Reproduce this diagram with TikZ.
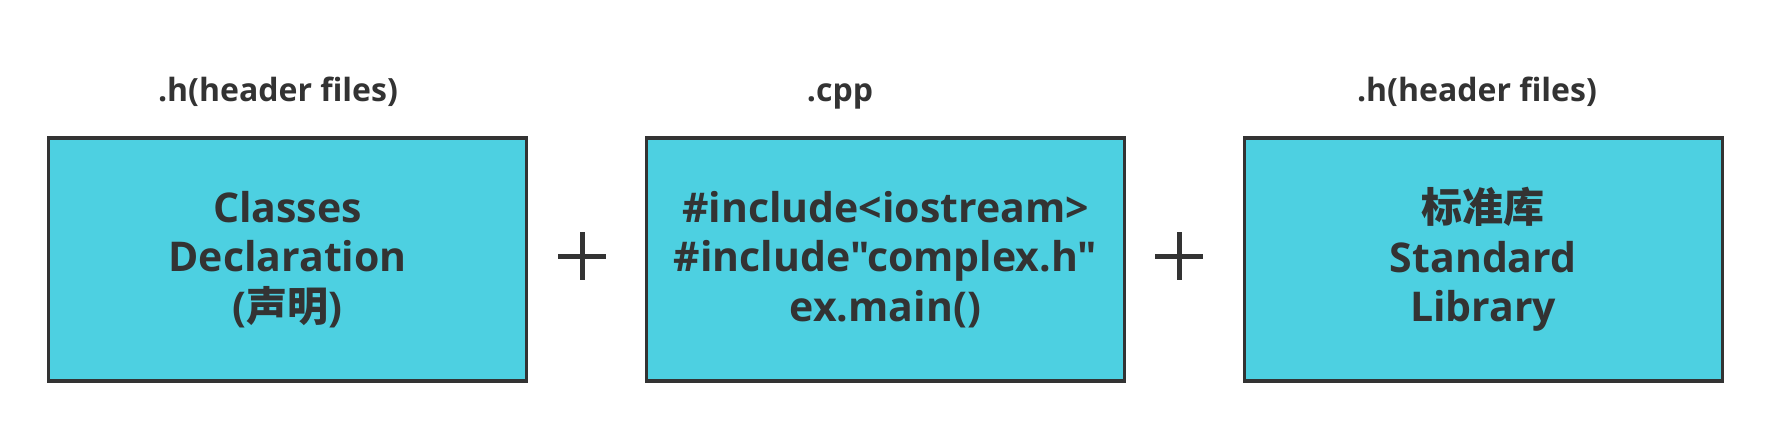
\documentclass[tikz,border=0pt]{standalone}
\usepackage{fontspec}
\setmainfont{Open Sans}[Ligatures=TeXOff]
\newfontfamily\cjk{Noto Sans CJK SC}
\definecolor{ink}{HTML}{333333}
\definecolor{boxfill}{HTML}{4DD0E1}
\begin{document}
\begin{tikzpicture}[x=1pt,y=-1pt,
  filebox/.style={draw=ink, line width=3.4pt, fill=boxfill, minimum width=478pt, minimum height=243pt,
    inner sep=0pt, align=center, text=ink, font=\fontsize{41}{49.7}\selectfont\bfseries},
  toplabel/.style={text=ink, font=\fontsize{32}{36}\selectfont\bfseries, anchor=base, inner sep=0pt},
  plusline/.style={draw=ink, line width=5pt}]
\useasboundingbox[fill=white] (0,0) rectangle (1772,431);

\node[filebox] (hdr) at (287.6,259.4) {Classes\\Declaration\\({\cjk 声明})};
\node[filebox] (cpp) at (885.4,259.4) {\#include<iostream>\\\#include"complex.h"\\ex.main()};
\node[filebox] (lib) at (1483.2,259.4) {{\cjk 标准库}\\Standard\\Library};

\node[toplabel] (hdrlabel) at (278,101.6) {.h(header files)};
\node[toplabel] (cpplabel) at (840,101.6) {.cpp};
\node[toplabel] (liblabel) at (1477,101.6) {.h(header files)};

\path[plusline] (558,256) -- (606,256) (582,232) -- (582,280);
\path[plusline] (1155,256) -- (1203,256) (1179,232) -- (1179,280);
\end{tikzpicture}
\end{document}
